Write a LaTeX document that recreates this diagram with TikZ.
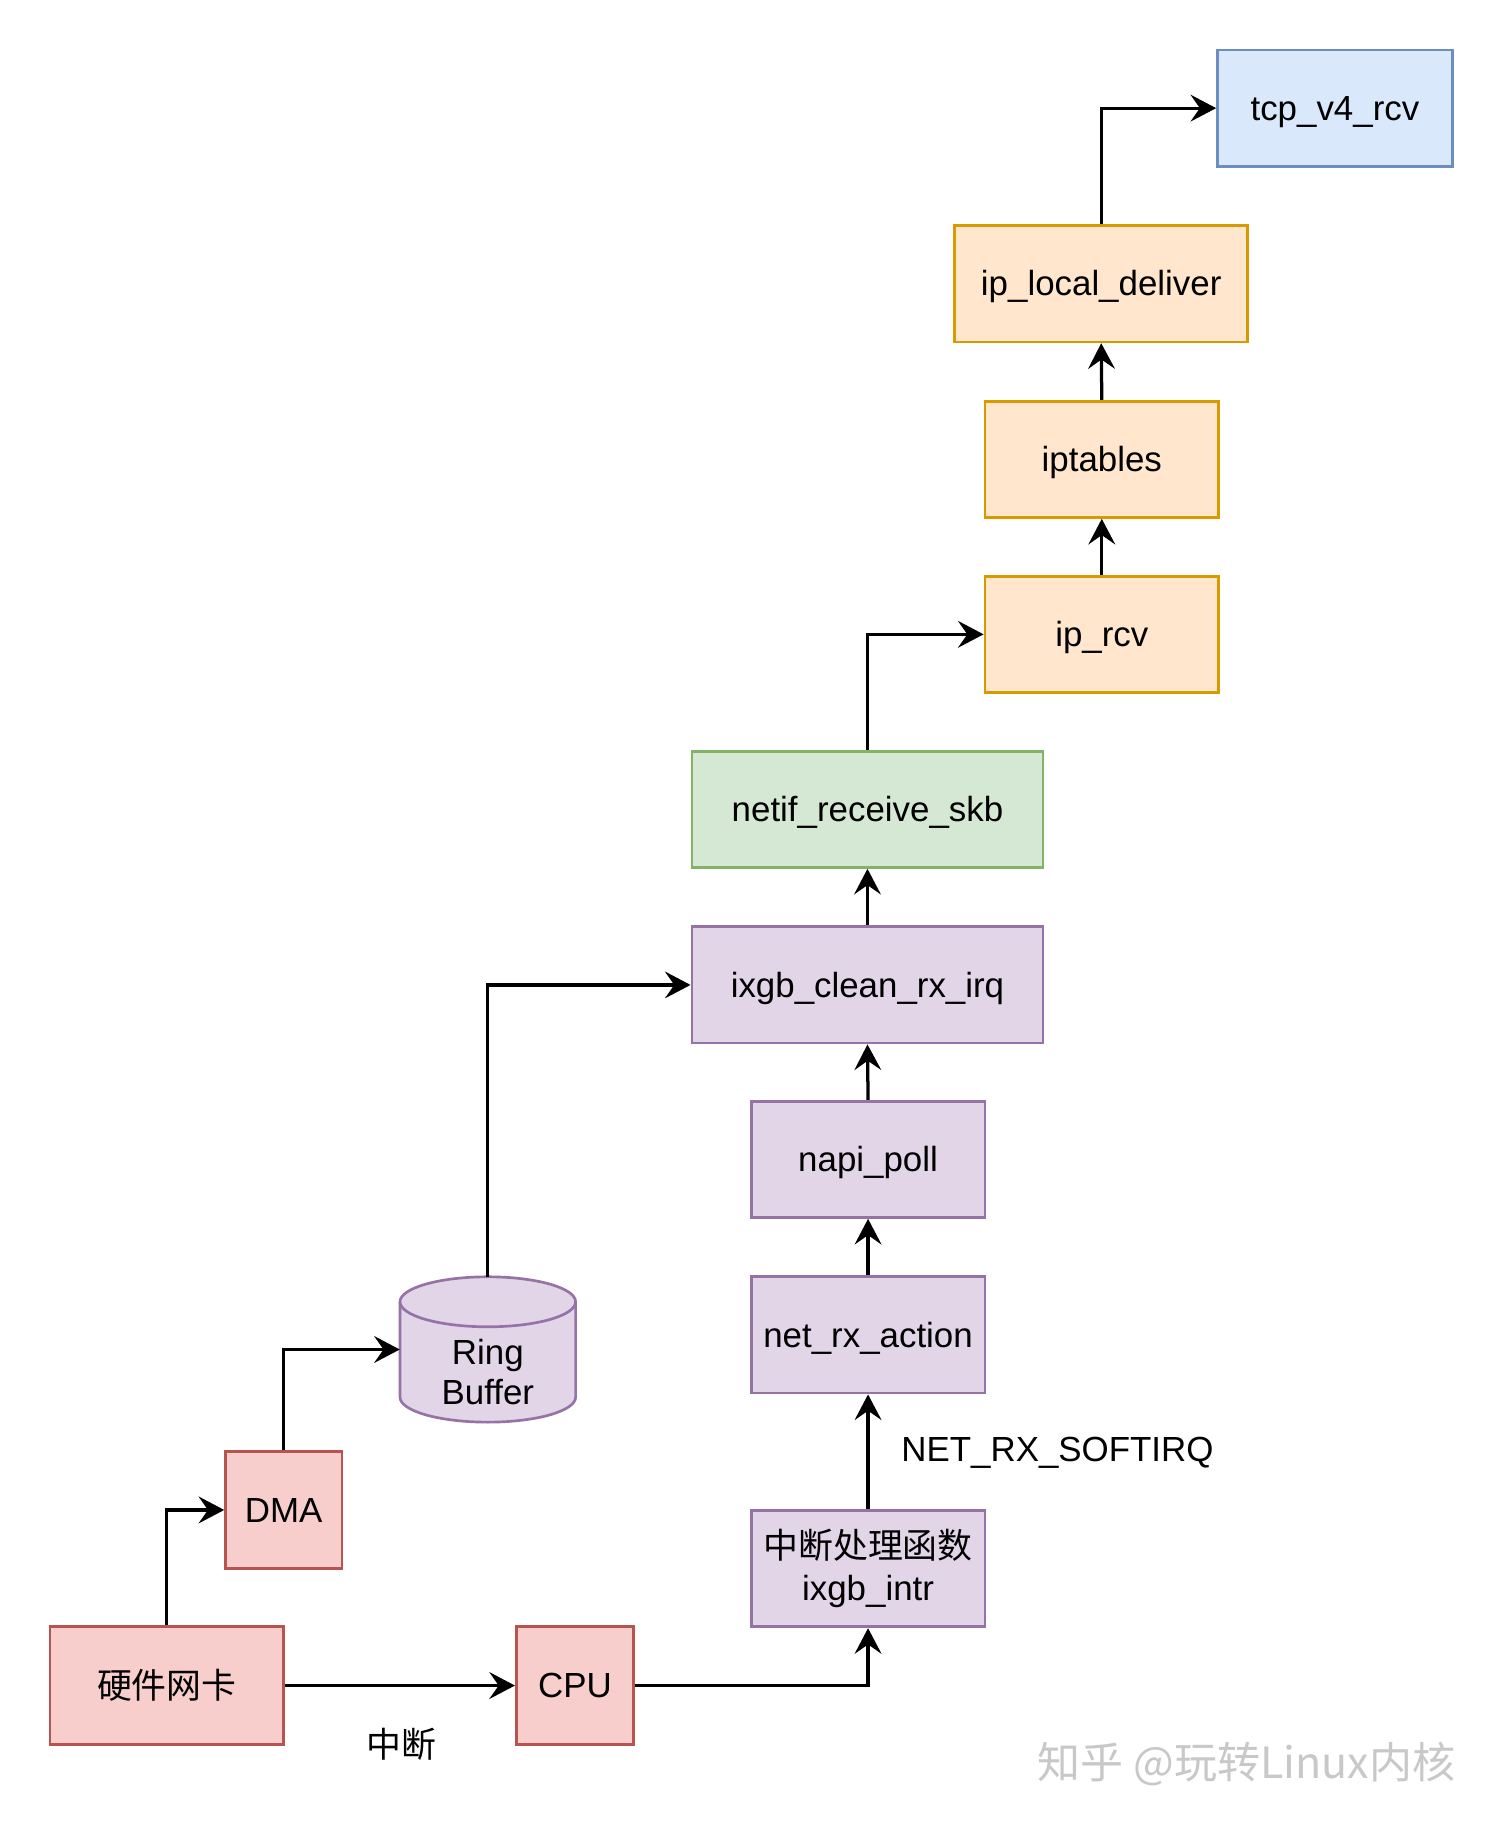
\documentclass[tikz,border=0pt]{standalone}
\usepackage{fontspec}
\setmainfont{Liberation Sans}
\newfontfamily\cjk{Noto Sans CJK SC}
\usetikzlibrary{arrows.meta}
\definecolor{bluefill}{HTML}{DAE8FC}\definecolor{bluedraw}{HTML}{6C8EBF}
\definecolor{orfill}{HTML}{FFE6CC}\definecolor{ordraw}{HTML}{D79B00}
\definecolor{grfill}{HTML}{D5E8D4}\definecolor{grdraw}{HTML}{82B366}
\definecolor{pufill}{HTML}{E1D5E7}\definecolor{pudraw}{HTML}{9673A6}
\definecolor{refill}{HTML}{F8CECC}\definecolor{redraw}{HTML}{B85450}
\definecolor{wmark}{HTML}{C8C8C8}
\tikzset{
  box/.style={rectangle, line width=2.3pt, minimum height=100pt, inner sep=0pt, align=center,
    font=\fontsize{30}{36}\selectfont},
  oneline/.style={text height=21pt, text depth=0pt},
  bluebox/.style={box, fill=bluefill, draw=bluedraw},
  orbox/.style={box, fill=orfill, draw=ordraw},
  grbox/.style={box, fill=grfill, draw=grdraw},
  pubox/.style={box, fill=pufill, draw=pudraw},
  rebox/.style={box, fill=refill, draw=redraw},
  conn/.style={line width=2.8pt, -{Stealth[length=22pt, width=23pt, inset=8pt]}},
  lbl/.style={font=\fontsize{30}{36}\selectfont, inner sep=0pt}
}
\begin{document}
\begin{tikzpicture}[x=1pt, y=-1pt]
\useasboundingbox (0,0) rectangle (1290,1566);
\fill[white] (0,0) rectangle (1290,1566);
% nodes
\node[bluebox, oneline, minimum width=202pt] (tcp) at (1148,93) {tcp\_v4\_rcv};
\node[orbox, oneline, minimum width=252pt] (ipld) at (947,244) {ip\_local\_deliver};
\node[orbox, oneline, minimum width=201pt] (ipt) at (947.5,395) {iptables};
\node[orbox, oneline, minimum width=201pt] (iprcv) at (947.5,545.5) {ip\_rcv};
\node[grbox, oneline, minimum width=302pt] (netif) at (746,696) {netif\_receive\_skb};
\node[pubox, oneline, minimum width=302pt] (clean) at (746,847) {ixgb\_clean\_rx\_irq};
\node[pubox, oneline, minimum width=201pt] (napi) at (746.5,997) {napi\_poll};
\node[pubox, oneline, minimum width=201pt] (netrx) at (746.5,1148) {net\_rx\_action};
\node[pubox, minimum width=201pt] (intr) at (746.5,1349) {{\cjk 中断处理函数}\\ixgb\_intr};
\node[rebox, oneline, minimum width=101pt, minimum height=101pt] (cpu) at (494.5,1449.5) {CPU};
\node[rebox, minimum width=201pt, minimum height=101pt] (nic) at (143.5,1449.5) {\cjk 硬件网卡};
\node[rebox, oneline, minimum width=100pt, minimum height=101pt] (dma) at (244,1298.5) {DMA};
% ring buffer cylinder
\fill[pufill] (344,1119.5) rectangle (495,1201.5);
\fill[pufill] (419.5,1201.5) ellipse [x radius=75.5, y radius=21.5];
\draw[pudraw, line width=2.3pt] (344,1119.5) -- (344,1201.5)
  arc[start angle=180, end angle=0, x radius=75.5, y radius=21.5] -- (495,1119.5);
\filldraw[fill=pufill, draw=pudraw, line width=2.3pt] (419.5,1119.5) ellipse [x radius=75.5, y radius=21.5];
\node[inner sep=0pt, minimum width=151pt, minimum height=125pt] (rb) at (419.5,1160.5) {};
\node[lbl, align=center] (rbtext) at (419.5,1180) {Ring\\[-2pt]Buffer};
% connectors
\draw[conn] (nic.north) |- (dma.west);
\draw[conn] (dma.north) |- (rb.west);
\draw[conn] (rb.north) |- (clean.west);
\draw[conn] (nic.east) -- (cpu.west);
\draw[conn] (cpu.east) -| (intr.south);
\draw[conn] (intr.north) -- (netrx.south);
\draw[conn] (netrx.north) -- (napi.south);
\draw[conn] (napi.north) -- (clean.south);
\draw[conn] (clean.north) -- (netif.south);
\draw[conn] (netif.north) |- (iprcv.west);
\draw[conn] (iprcv.north) -- (ipt.south);
\draw[conn] (ipt.north) -- (ipld.south);
\draw[conn] (ipld.north) |- (tcp.west);
% labels
\node[lbl, anchor=west] (softirq) at (775,1249) {NET\_RX\_SOFTIRQ};
\node[lbl] (irq) at (345,1500) {\cjk 中断};
\node[font=\fontsize{37}{40}\selectfont\cjk, text=wmark, inner sep=0pt] (wm) at (1072,1517) {知乎 @玩转Linux内核};
\end{tikzpicture}
\end{document}
